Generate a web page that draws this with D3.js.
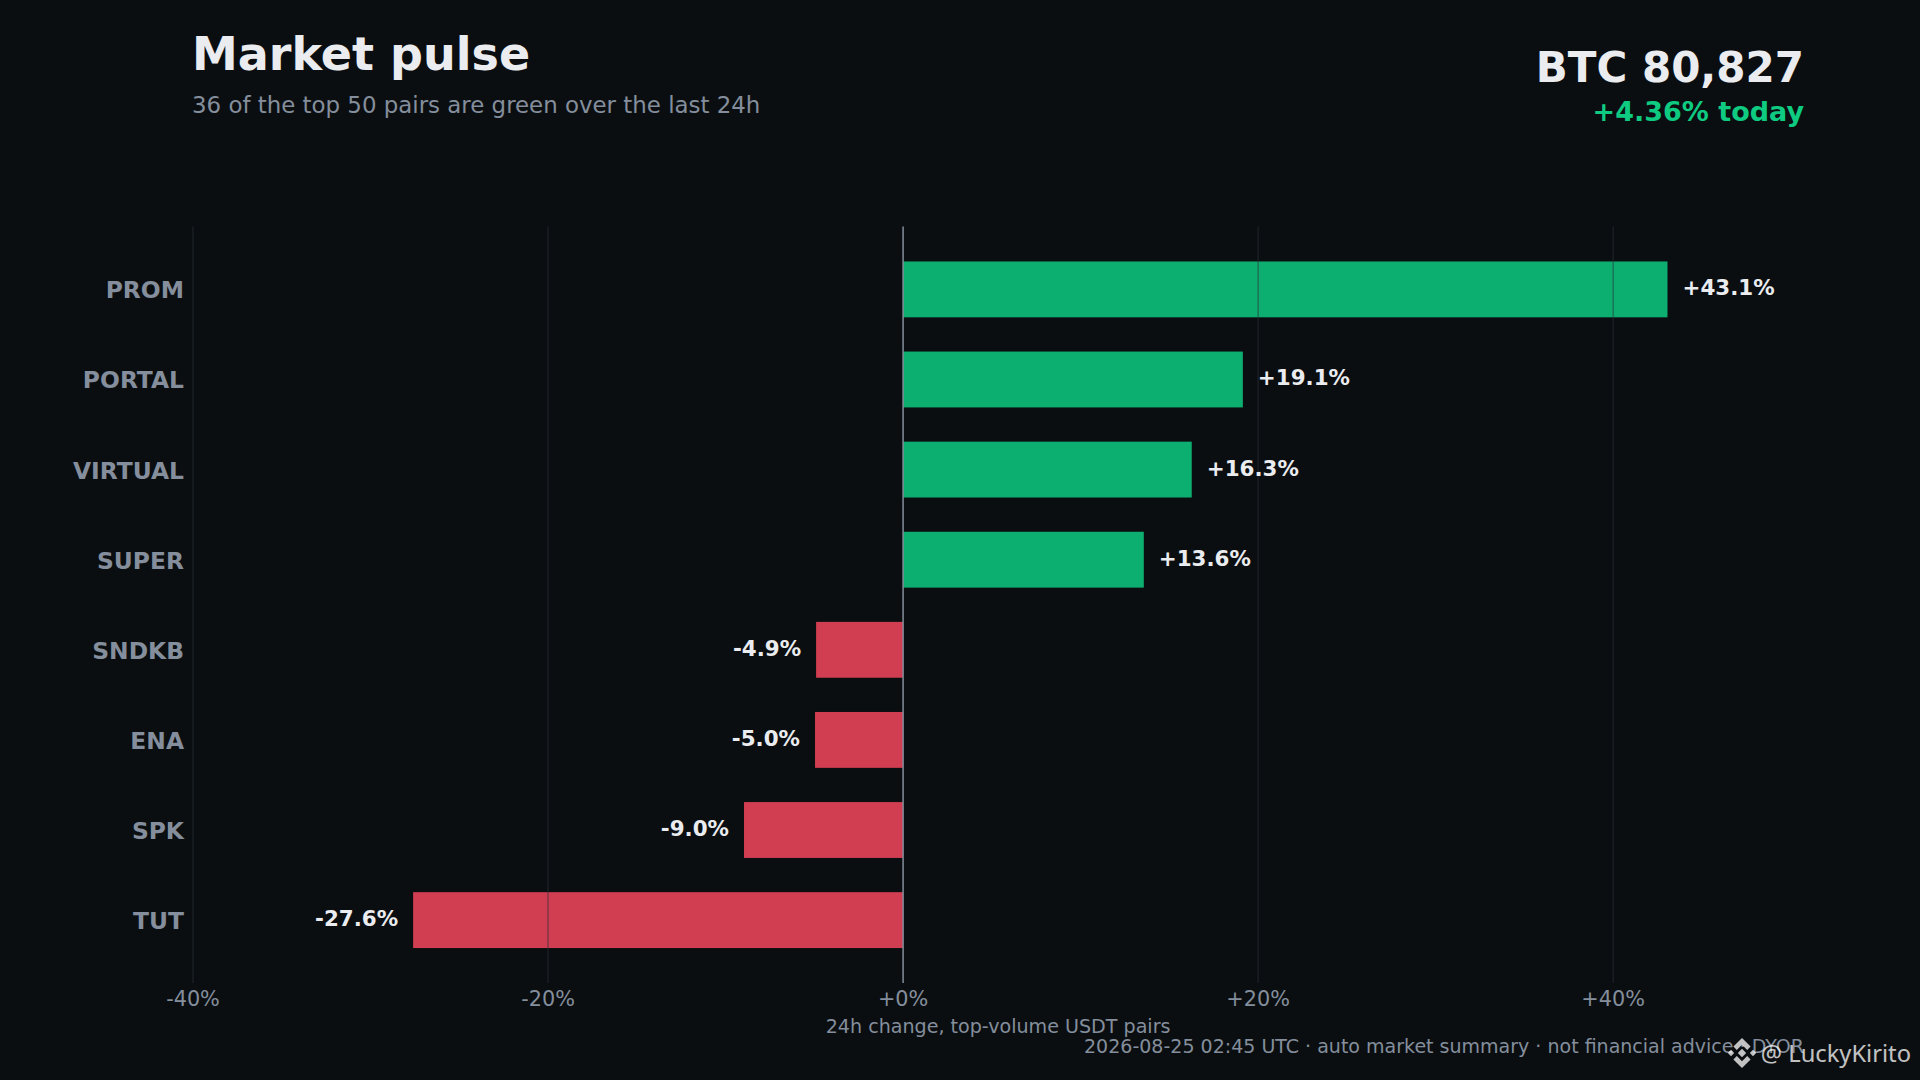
<!DOCTYPE html>
<html>
<head>
<meta charset="utf-8">
<script src="https://cdn.jsdelivr.net/npm/d3@7"></script>
<style>
  html, body { margin: 0; padding: 0; background: #0b0e11; }
  svg { display: block; font-family: "DejaVu Sans", sans-serif; }
</style>
</head>
<body>
<svg id="chart" width="1920" height="1080"></svg>
<script>
const symbols = ["PROM", "PORTAL", "VIRTUAL", "SUPER", "SNDKB", "ENA", "SPK", "TUT"];
const changes = [43.06, 19.14, 16.26, 13.56, -4.9, -4.96, -8.96, -27.6];
const xTicks = [-40, -20, 0, 20, 40];
const xDomain = [-40, 50.75];

const colors = {
  bg: "#0b0e11", text: "#eaecef", muted: "#848e9c", grid: "#2b3139",
  up: "#0ecb81", down: "#f6465d",
};

const margin = { top: 226.5, right: 116, bottom: 97, left: 193 };
const width = 1920, height = 1080;

const svg = d3.select("#chart");
svg.append("rect").attr("width", width).attr("height", height).attr("fill", colors.bg);

const x = d3.scaleLinear().domain(xDomain).range([margin.left, width - margin.right]);
const y = d3.scaleBand()
  .domain(symbols)
  .range([margin.top, height - margin.bottom])
  .paddingInner(0.38)
  .paddingOuter(0.388);

const signed = (v) => (v >= 0 ? "+" : "-") + Math.abs(v).toFixed(1) + "%";

// bars first, the grid sits on top of them
svg.append("g")
  .selectAll("rect")
  .data(changes)
  .join("rect")
  .attr("x", (d) => Math.min(x(0), x(d)))
  .attr("y", (d, i) => y(symbols[i]))
  .attr("width", (d) => Math.abs(x(d) - x(0)))
  .attr("height", y.bandwidth())
  .attr("fill", (d) => (d >= 0 ? colors.up : colors.down))
  .attr("opacity", 0.85);

svg.append("g")
  .selectAll("line")
  .data(xTicks.filter((t) => t !== 0))
  .join("line")
  .attr("x1", x).attr("x2", x)
  .attr("y1", margin.top).attr("y2", height - margin.bottom)
  .attr("stroke", colors.grid)
  .attr("stroke-width", 1.2)
  .attr("opacity", 0.6);

svg.append("line")
  .attr("x1", x(0)).attr("x2", x(0))
  .attr("y1", margin.top).attr("y2", height - margin.bottom)
  .attr("stroke", colors.muted)
  .attr("stroke-width", 1.5);

// axes
const xAxis = d3.axisBottom(x)
  .tickValues(xTicks)
  .tickSize(0)
  .tickPadding(0)
  .tickFormat((d) => (d >= 0 ? "+" : "-") + Math.abs(d) + "%");
const xG = svg.append("g")
  .attr("transform", `translate(-0.5, ${height - margin.bottom})`)
  .call(xAxis);
xG.select(".domain").remove();
xG.selectAll("text")
  .attr("y", 23)
  .attr("dy", 0)
  .attr("fill", colors.muted)
  .attr("font-size", 20.8)
  .attr("font-family", "DejaVu Sans");

const yAxis = d3.axisLeft(y).tickSize(0).tickPadding(0);
const yG = svg.append("g").attr("transform", "translate(184, 0)").call(yAxis);
yG.select(".domain").remove();
yG.selectAll("text")
  .attr("dy", 9)
  .attr("fill", colors.muted)
  .attr("font-size", 23.4)
  .attr("font-weight", "bold")
  .attr("font-family", "DejaVu Sans");

// value labels
svg.append("g")
  .selectAll("text")
  .data(changes)
  .join("text")
  .attr("x", (d) => x(d) + (d >= 0 ? 15 : -15))
  .attr("y", (d, i) => y(symbols[i]) + y.bandwidth() / 2 + 6)
  .attr("text-anchor", (d) => (d >= 0 ? "start" : "end"))
  .attr("fill", colors.text)
  .attr("font-size", 21.4)
  .attr("font-weight", "bold")
  .text(signed);

// header
svg.append("text").attr("x", 192).attr("y", 70)
  .attr("fill", colors.text).attr("font-size", 46).attr("font-weight", "bold")
  .text("Market pulse");
svg.append("text").attr("x", 192).attr("y", 113)
  .attr("fill", colors.muted).attr("font-size", 22.9)
  .text("36 of the top 50 pairs are green over the last 24h");
svg.append("text").attr("x", 1804).attr("y", 82).attr("text-anchor", "end")
  .attr("fill", colors.text).attr("font-size", 42).attr("font-weight", "bold")
  .text("BTC 80,827");
svg.append("text").attr("x", 1804).attr("y", 121).attr("text-anchor", "end")
  .attr("fill", colors.up).attr("font-size", 27).attr("font-weight", "bold")
  .text("+4.36% today");

// footer
svg.append("text").attr("x", x(0) + 95).attr("y", 1033).attr("text-anchor", "middle")
  .attr("fill", colors.muted).attr("font-size", 19.1)
  .text("24h change, top-volume USDT pairs");
svg.append("text").attr("x", 1804).attr("y", 1053).attr("text-anchor", "end")
  .attr("fill", colors.muted).attr("font-size", 19.02)
  .text("2026-08-25 02:45 UTC · auto market summary · not financial advice · DYOR");

// watermark
const mark = svg.append("g").attr("transform", "translate(1742, 1053)").attr("fill", "#fff").attr("opacity", 0.75);
mark.append("path").attr("d", "M0,-15L8.6,-6.4L5.2,-3L0,-8.2L-5.2,-3L-8.6,-6.4Z");
mark.append("path").attr("d", "M0,15L8.6,6.4L5.2,3L0,8.2L-5.2,3L-8.6,6.4Z");
mark.append("path").attr("d", "M0,-4.2L4.2,0L0,4.2L-4.2,0Z");
mark.append("path").attr("d", "M-11,-3.2L-7.8,0L-11,3.2L-14.2,0Z");
mark.append("path").attr("d", "M11,-3.2L14.2,0L11,3.2L7.8,0Z");
svg.append("text").attr("x", 1911).attr("y", 1062).attr("text-anchor", "end")
  .attr("fill", "#fff").attr("opacity", 0.75)
  .attr("font-family", "Noto Sans").attr("font-size", 23.7)
  .text("@ LuckyKirito");
</script>
</body>
</html>
